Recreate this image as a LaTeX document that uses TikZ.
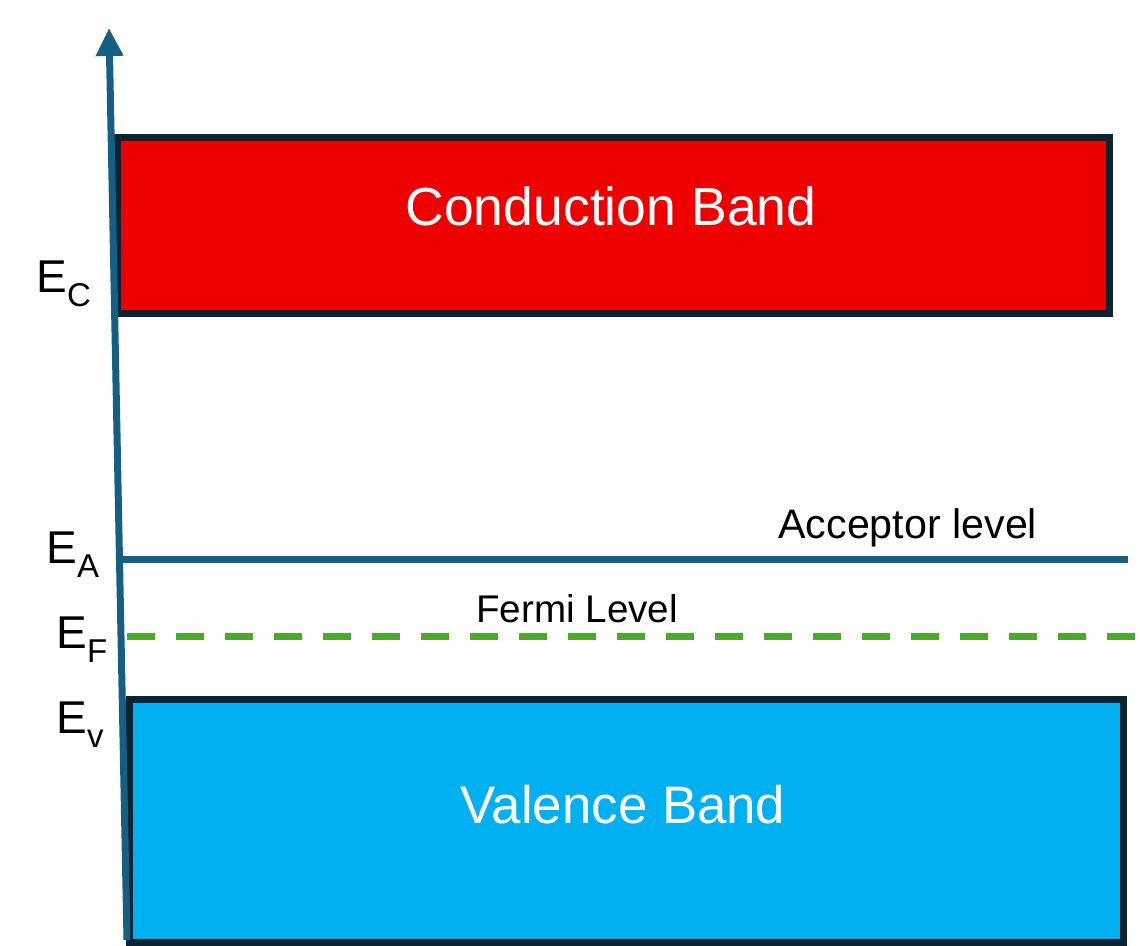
\documentclass[tikz,border=0pt]{standalone}
\usepackage{fontspec}
\setmainfont{Liberation Sans}
\usetikzlibrary{arrows.meta}
\definecolor{cbred}{HTML}{EE0000}
\definecolor{vbblue}{HTML}{00B0F0}
\definecolor{boxedge}{HTML}{0B2333}
\definecolor{axisblue}{HTML}{156082}
\definecolor{fermigreen}{HTML}{4EA72E}
\begin{document}
\begin{tikzpicture}[x=0.5pt,y=-0.5pt,
  bandbox/.style={draw=boxedge,line width=3.5pt},
  bandtext/.style={text=white,inner sep=0pt,anchor=base},
  elabel/.style={font=\fontsize{23}{23}\selectfont,inner sep=0pt,anchor=base west},
  leveltext/.style={inner sep=0pt,anchor=base west},
  axisline/.style={draw=axisblue,line width=3.5pt},
  acceptorline/.style={draw=axisblue,line width=3.5pt},
  fermiline/.style={draw=fermigreen,line width=3.5pt,dash pattern=on 14pt off 10.5pt}]
\useasboundingbox (0,0) rectangle (1140,946);
% bands
\draw[bandbox,fill=cbred] (117,137.5) rectangle (1109.5,313.5);
\draw[bandbox,fill=vbblue] (129.5,699.5) rectangle (1123.5,942.5);
\node[bandtext,font=\fontsize{26.8}{26.8}\selectfont] (cb) at (611,226) {Conduction Band};
\node[bandtext,font=\fontsize{26.4}{26.4}\selectfont] (vb) at (623,823) {Valence Band};
% levels
\coordinate (aL) at (121,559.5);
\coordinate (aR) at (1128,559.5);
\coordinate (fL) at (127,636.5);
\coordinate (fR) at (1145,636.5);
\draw[acceptorline] (aL) -- (aR);
\draw[fermiline] (fL) -- (fR);
\node[leveltext,font=\fontsize{20.6}{20.6}\selectfont] (al) at (778,538) {Acceptor level};
\node[leveltext,font=\fontsize{19.3}{19.3}\selectfont] (fl) at (476,622) {Fermi Level};
% axis
\coordinate (ax0) at (127,940);
\coordinate (ax1) at (109,28);
\draw[axisline,-{Triangle[width=13pt,length=14pt]}] (ax0) -- (ax1);
% energy labels
\newcommand{\esub}[1]{E\raisebox{-7pt}{\fontsize{16.5}{16.5}\selectfont #1}}
\node[elabel] (ec) at (36,293) {\esub{C}};
\node[elabel] (ea) at (46,563) {\esub{A}};
\node[elabel] (ef) at (56,648) {\esub{F}};
\node[elabel] (ev) at (56,733) {\esub{v}};
\end{tikzpicture}
\end{document}
